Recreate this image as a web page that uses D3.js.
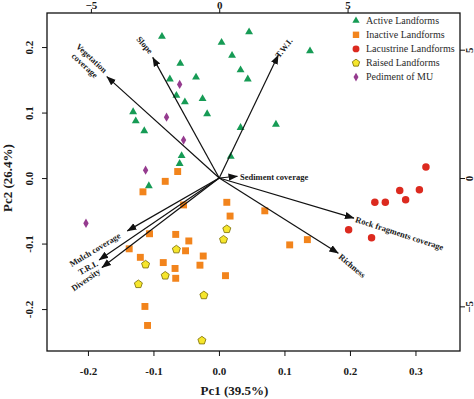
<!DOCTYPE html>
<html>
<head>
<meta charset="utf-8">
<script src="https://cdn.jsdelivr.net/npm/d3@7"></script>
<style>
  body { margin: 0; background: #fff; }
  svg { display: block; font-family: 'Liberation Serif', 'DejaVu Serif', serif; }
</style>
</head>
<body>
<div id="chart"></div>
<script>
// PCA scores, [Pc1, Pc2]
const activeLandforms = [
  [-0.087, 0.216], [0.046, 0.223], [0.004, 0.207], [0.139, 0.194], [0.020, 0.187],
  [-0.059, 0.175], [0.033, 0.165], [-0.035, 0.154], [-0.075, 0.151], [0.044, 0.151],
  [-0.065, 0.126], [-0.052, 0.116], [-0.025, 0.121], [-0.131, 0.101], [-0.127, 0.087],
  [-0.018, 0.098], [-0.114, 0.072], [0.033, 0.077], [0.087, 0.082], [-0.057, 0.034],
  [-0.060, 0.022], [0.018, 0.033], [-0.107, -0.012],
]
const inactiveLandforms = [
  [-0.063, 0.010], [-0.082, -0.005], [-0.116, -0.021], [-0.054, -0.041], [0.012, -0.037],
  [0.017, -0.058], [0.070, -0.050], [-0.106, -0.085], [-0.066, -0.086], [-0.046, -0.096],
  [-0.137, -0.108], [-0.051, -0.111], [-0.120, -0.121], [-0.024, -0.119], [-0.085, -0.129],
  [-0.029, -0.133], [-0.067, -0.138], [-0.066, -0.153], [0.010, -0.149], [0.108, -0.102],
  [0.135, -0.094], [-0.113, -0.196], [-0.109, -0.225],
]
const lacustrineLandforms = [
  [0.316, 0.017], [0.276, -0.019], [0.306, -0.018], [0.238, -0.037],
  [0.254, -0.037], [0.285, -0.033], [0.198, -0.079], [0.233, -0.091],
]
const raisedLandforms = [
  [0.012, -0.078], [0.007, -0.094], [-0.065, -0.109], [-0.112, -0.132],
  [-0.082, -0.149], [-0.123, -0.162], [-0.023, -0.179], [-0.026, -0.248],
]
const pedimentOfMU = [
  [-0.060, 0.143], [-0.080, 0.093], [-0.054, 0.058], [-0.112, 0.012], [-0.203, -0.069],
]

// variable loadings (top / right axes)
const loadingNames = [
  'Vegetation coverage', 'Slope', 'T.W.I.', 'Sediment coverage', 'Rock fragments coverage',
  'Richness', 'Mulch coverage', 'T.R.I.', 'Diversity',
]
const loadingPc1 = [-4.38, -2.59, 2.30, 0.71, 5.25, 4.64, -3.58, -4.68, -4.57]
const loadingPc2 = [3.95, 4.70, 4.79, 0.07, -1.56, -2.93, -2.06, -3.19, -3.49]

const xTicks = [-0.2, -0.1, 0, 0.1, 0.2, 0.3]
const yTicks = [-0.2, -0.1, 0, 0.1, 0.2]
const loadingTicks = [-5, 0, 5]

const width = 474
const height = 399
const plot = { left: 47, right: 460, top: 13, bottom: 351 }

const pentagon = {
  draw(context, size) {
    const r = Math.sqrt(size / 2.378)
    for (let i = 0; i < 5; i++) {
      const a = -Math.PI / 2 + (i * 2 * Math.PI) / 5
      if (i) context.lineTo(r * Math.cos(a), r * Math.sin(a))
      else context.moveTo(r * Math.cos(a), r * Math.sin(a))
    }
    context.closePath()
  },
}

const groups = [
  { name: 'Active Landforms', points: activeLandforms, type: d3.symbolTriangle, size: 27, fill: '#169b55' },
  { name: 'Inactive Landforms', points: inactiveLandforms, type: d3.symbolSquare, size: 48, fill: '#f2841c' },
  { name: 'Lacustrine Landforms', points: lacustrineLandforms, type: d3.symbolCircle, size: 44, fill: '#dc2a1f' },
  { name: 'Raised Landforms', points: raisedLandforms, type: pentagon, size: 42, fill: '#f6e62c', stroke: '#776a00' },
  { name: 'Pediment of MU', points: pedimentOfMU, type: d3.symbolDiamond, size: 25, fill: '#953b8f' },
]

// label placement relative to arrow tip (px) and rotation
const labelLayout = {
  'Vegetation coverage': { dx: -18.7, dy: -14.7, angle: 43, lines: ['Vegetation', 'coverage'] },
  'Slope': { dx: -8.2, dy: -12.3, angle: 49 },
  'T.W.I.': { dx: 5.7, dy: -7, angle: -52 },
  'Sediment coverage': { dx: 2.5, dy: 0.7, angle: 0, anchor: 'start' },
  'Rock fragments coverage': { dx: 45.5, dy: 15.5, angle: 18 },
  'Richness': { dx: 13.7, dy: 12.7, angle: 40 },
  'Mulch coverage': { dx: -32.3, dy: 19, angle: -31 },
  'T.R.I.': { dx: -11, dy: 8, angle: -28 },
  'Diversity': { dx: -16, dy: 12.3, angle: -35 },
}

const svg = d3
  .select('#chart')
  .append('svg')
  .attr('width', width)
  .attr('height', height)

const x = d3.scaleLinear().domain([-0.2625, 0.368]).range([plot.left, plot.right])
const y = d3.scaleLinear().domain([-0.264, 0.252]).range([plot.bottom, plot.top])
const x2 = d3.scaleLinear().domain([-6.71, 9.38]).range([plot.left, plot.right])
const y2 = d3.scaleLinear().domain([-6.74, 6.43]).range([plot.bottom, plot.top])

const fmt = d => d.toFixed(1)

function styleAxis(g) {
  g.select('.domain').remove()
  g.selectAll('line').attr('stroke', '#111').attr('stroke-width', 1)
  g.selectAll('text')
    .attr('fill', '#1a1a1a')
    .attr('font-family', "'Liberation Serif', serif")
    .attr('font-weight', 'bold')
    .attr('font-size', 11)
}

svg
  .append('g')
  .attr('transform', `translate(0,${plot.bottom})`)
  .call(d3.axisBottom(x).tickValues(xTicks).tickFormat(fmt).tickSize(5).tickSizeOuter(0))
  .call(styleAxis)
  .call(g => g.selectAll('text').attr('y', 24).attr('dy', 0))

svg
  .append('g')
  .attr('transform', `translate(${plot.left},0)`)
  .call(d3.axisLeft(y).tickValues(yTicks).tickFormat(fmt).tickSize(5).tickSizeOuter(0))
  .call(styleAxis)
  .call(g =>
    g
      .selectAll('text')
      .attr('transform', 'rotate(-90)')
      .attr('x', 0)
      .attr('y', -14.4)
      .attr('dy', 0)
      .attr('text-anchor', 'middle')
  )

svg
  .append('g')
  .attr('transform', `translate(0,${plot.top})`)
  .call(d3.axisTop(x2).tickValues(loadingTicks).tickSize(4).tickSizeOuter(0))
  .call(styleAxis)
  .call(g => g.selectAll('text').attr('y', -4).attr('dy', 0))

svg
  .append('g')
  .attr('transform', `translate(${plot.right},0)`)
  .call(d3.axisRight(y2).tickValues(loadingTicks).tickSize(5).tickSizeOuter(0))
  .call(styleAxis)
  .call(g =>
    g
      .selectAll('text')
      .attr('transform', 'rotate(-90)')
      .attr('x', 0)
      .attr('y', 12.6)
      .attr('dy', 0)
      .attr('text-anchor', 'middle')
  )

// box
svg
  .append('rect')
  .attr('x', plot.left)
  .attr('y', plot.top)
  .attr('width', plot.right - plot.left)
  .attr('height', plot.bottom - plot.top)
  .attr('fill', 'none')
  .attr('stroke', '#111')
  .attr('stroke-width', 1.3)

// axis titles
svg
  .append('text')
  .attr('x', 234.5)
  .attr('y', 395)
  .attr('text-anchor', 'middle')
  .attr('font-weight', 'bold')
  .attr('font-size', 13)
  .attr('fill', '#1a1a1a')
  .text('Pc1 (39.5%)')

svg
  .append('text')
  .attr('transform', 'translate(12,178) rotate(-90)')
  .attr('text-anchor', 'middle')
  .attr('font-weight', 'bold')
  .attr('font-size', 13)
  .attr('fill', '#1a1a1a')
  .text('Pc2 (26.4%)')

// points
const pointGroup = svg.append('g')
groups.forEach(grp => {
  const sym = d3.symbol().type(grp.type).size(grp.size)
  pointGroup
    .append('g')
    .selectAll('path')
    .data(grp.points)
    .enter()
    .append('path')
    .attr('transform', d => `translate(${x(d[0])},${y(d[1])})`)
    .attr('d', sym)
    .attr('fill', grp.fill)
    .attr('stroke', grp.stroke || 'none')
    .attr('stroke-width', grp.stroke ? 0.8 : 0)
})

// loading arrows
svg
  .append('defs')
  .append('marker')
  .attr('id', 'arrowhead')
  .attr('markerUnits', 'userSpaceOnUse')
  .attr('viewBox', '0 -5 10 10')
  .attr('refX', 9)
  .attr('refY', 0)
  .attr('markerWidth', 10)
  .attr('markerHeight', 10)
  .attr('orient', 'auto')
  .append('path')
  .attr('d', 'M0,-3.6L9.5,0L0,3.6Z')
  .attr('fill', '#111')

const loadings = loadingNames.map((name, i) => ({ name, pc1: loadingPc1[i], pc2: loadingPc2[i] }))

const arrowGroup = svg.append('g')
arrowGroup
  .selectAll('line')
  .data(loadings)
  .enter()
  .append('line')
  .attr('x1', x2(0))
  .attr('y1', y2(0))
  .attr('x2', d => x2(d.pc1))
  .attr('y2', d => y2(d.pc2))
  .attr('stroke', '#111')
  .attr('stroke-width', 1.2)
  .attr('marker-end', 'url(#arrowhead)')

const labels = arrowGroup
  .selectAll('text')
  .data(loadings)
  .enter()
  .append('text')
  .attr('transform', d => {
    const l = labelLayout[d.name]
    return `translate(${x2(d.pc1) + l.dx},${y2(d.pc2) + l.dy}) rotate(${l.angle})`
  })
  .attr('text-anchor', d => labelLayout[d.name].anchor || 'middle')
  .attr('font-weight', 'bold')
  .attr('font-size', 8.5)
  .attr('fill', '#1a1a1a')

labels.each(function(d) {
  const lines = labelLayout[d.name].lines || [d.name]
  const t = d3.select(this)
  lines.forEach((line, i) => {
    t.append('tspan')
      .attr('x', 0)
      .attr('y', (i - (lines.length - 1) / 2) * 10)
      .attr('dy', '0.32em')
      .text(line)
  })
})

// legend
const legend = svg.append('g').attr('transform', 'translate(356,20.7)')
const rows = legend
  .selectAll('g')
  .data(groups)
  .enter()
  .append('g')
  .attr('transform', (_, i) => `translate(0,${i * 14.1})`)

rows
  .append('path')
  .attr('d', d => d3.symbol().type(d.type).size(d.size * 0.85)())
  .attr('fill', d => d.fill)
  .attr('stroke', d => d.stroke || 'none')
  .attr('stroke-width', d => (d.stroke ? 0.8 : 0))

rows
  .append('text')
  .attr('x', 10)
  .attr('dy', '0.32em')
  .attr('font-size', 10)
  .attr('fill', '#2a2a2a')
  .text(d => d.name)
</script>
</body>
</html>
